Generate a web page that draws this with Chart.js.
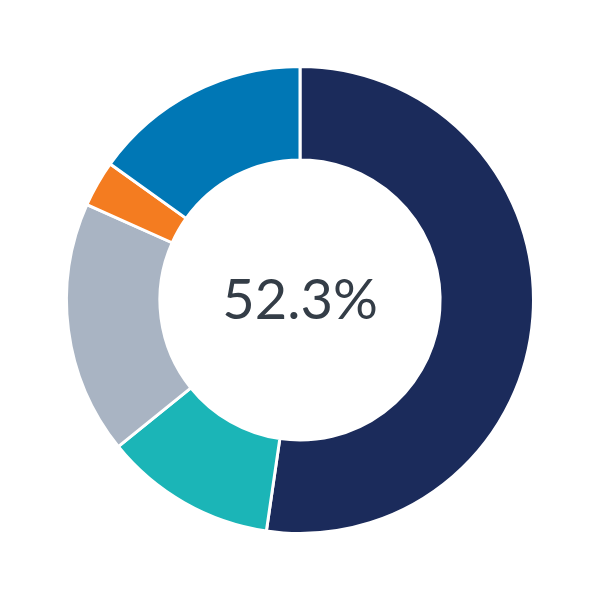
<!DOCTYPE html>
<html>
<head>
<meta charset="utf-8">
<script src="https://cdn.jsdelivr.net/npm/chart.js@4"></script>
<style>
html,body{margin:0;padding:0;background:#fff;}
#wrap{position:relative;width:600px;height:600px;}
#center{position:absolute;left:0;top:-3px;width:600px;height:600px;display:flex;align-items:center;justify-content:center;font-family:Lato,"Open Sans",sans-serif;font-size:56px;color:#343d47;pointer-events:none;}
</style>
</head>
<body>
<div id="wrap"><canvas id="c" width="600" height="600"></canvas><div id="center"></div></div>
<script>
const categories = ["Segment A","Segment B","Segment C","Segment D","Segment E"];
const values = [52.3, 11.9, 17.5, 3.2, 15.1];
const colors = ["#1b2b5b","#1bb5b7","#a9b4c3","#f47c20","#0077b5"];
const centerLabel = "52.3%";

document.getElementById('center').textContent = centerLabel;
new Chart(document.getElementById('c'), {
  type: 'doughnut',
  data: { labels: categories, datasets: [{ data: values, backgroundColor: colors, borderColor: '#ffffff', borderWidth: 3 }] },
  options: {
    responsive: false, animation: false, cutout: '60%',
    layout: { padding: 65 },
    plugins: { legend: { display: false }, tooltip: { enabled: false } }
  }
});
</script>
</body>
</html>
